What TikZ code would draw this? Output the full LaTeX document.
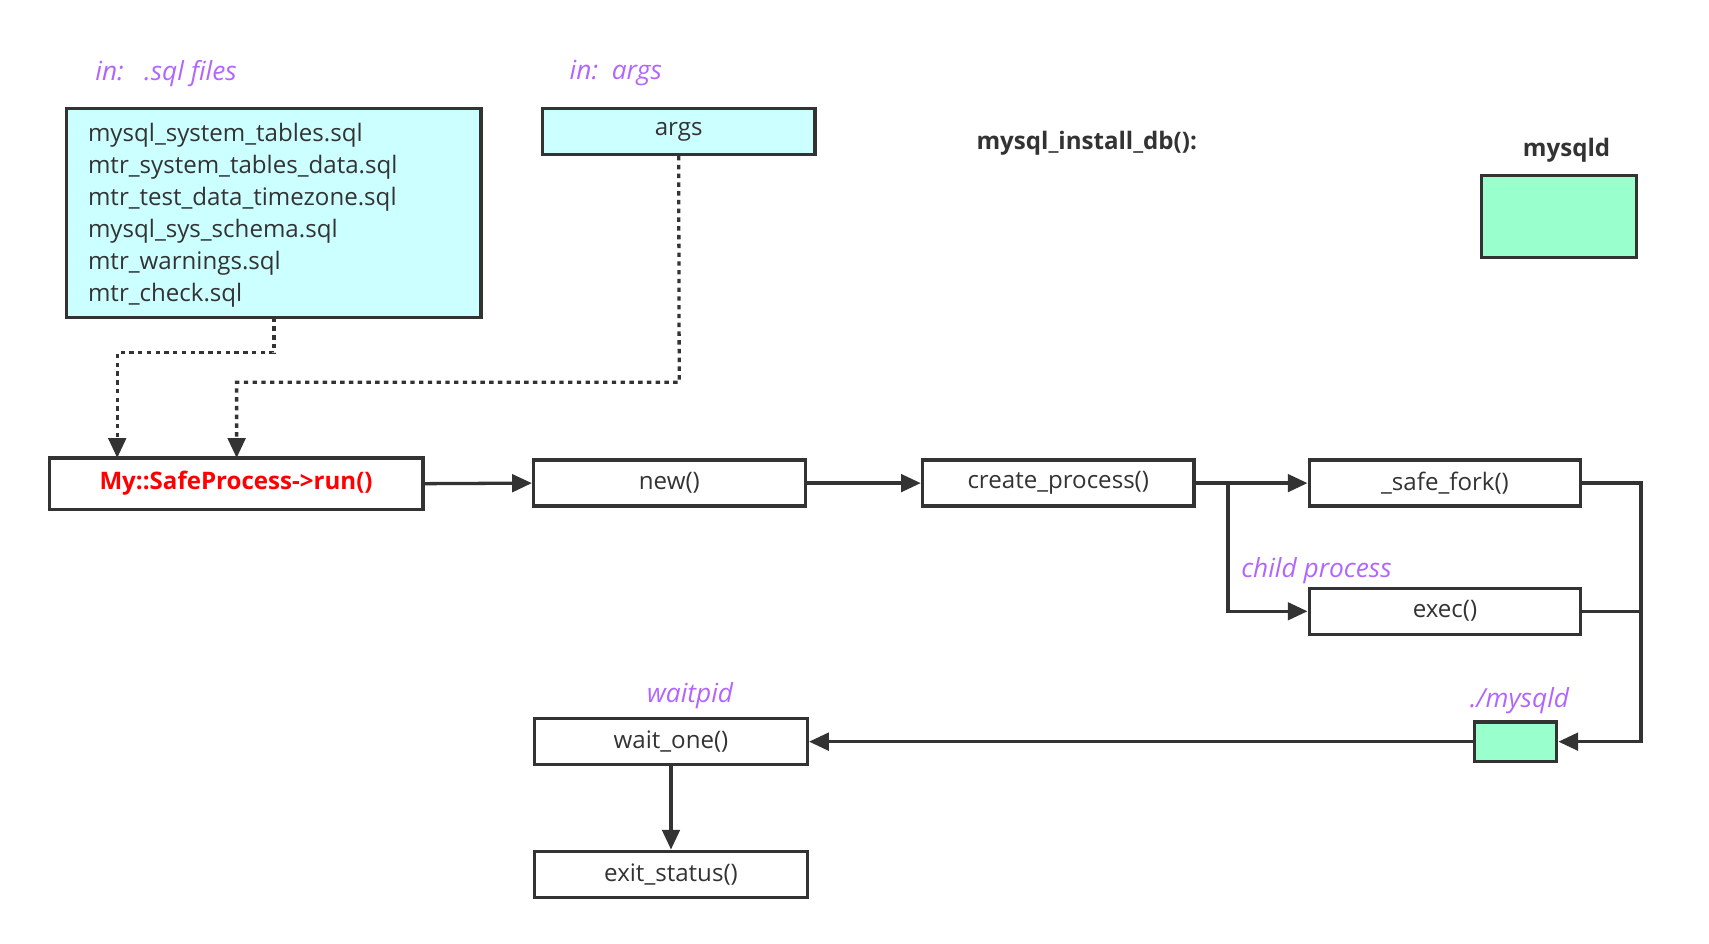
\documentclass[tikz,border=0pt]{standalone}
\usepackage{fontspec}
\setmainfont{Open Sans}
\usetikzlibrary{arrows.meta}
\definecolor{ln}{HTML}{333333}
\definecolor{cy}{HTML}{CCFFFF}
\definecolor{mint}{HTML}{99FFCC}
\definecolor{pu}{HTML}{B266FF}
\begin{document}
\begin{tikzpicture}[x=0.5pt,y=-0.5pt,
  box/.style={draw=ln,line width=1.5pt,minimum height=21pt,inner sep=0pt,font=\fontsize{11}{13}\selectfont,text=ln},
  lab/.style={font=\fontsize{12}{14}\selectfont\itshape,text=pu},
  arr/.style={draw=ln,line width=1.5pt,-{Triangle[length=9pt,width=8pt]}},
  con/.style={draw=ln,line width=1.5pt},
  dot/.style={draw=ln,line width=1.5pt,dash pattern=on 2pt off 2pt,-{Triangle[length=9pt,width=8pt]}}]
\useasboundingbox (0,0) rectangle (1560,861);
\node[box,fill=cy,minimum width=189pt,minimum height=95.5pt] (sql) at (250,194.5) {};
\node[anchor=north west,align=left,font=\fontsize{11}{14.6}\selectfont,text=ln,inner sep=0pt] (sqltxt) at (80,112) {mysql\_system\_tables.sql\\mtr\_system\_tables\_data.sql\\mtr\_test\_data\_timezone.sql\\mysql\_sys\_schema.sql\\mtr\_warnings.sql\\mtr\_check.sql};
\node[box,fill=cy,minimum width=124.5pt] (args) at (619.5,120) {args};
\node[lab,anchor=west] (l1) at (80,67) {in:\ \ \ .sql files};
\node[lab,anchor=west] (l2) at (513,67) {in:\ \ args};
\node[font=\fontsize{11}{13}\selectfont\bfseries,text=ln] (title) at (992,131) {mysql\_install\_db():};
\node[font=\fontsize{11}{13}\selectfont\bfseries,text=ln] (mt) at (1430,137) {mysqld};
\node[box,fill=mint,minimum width=71pt,minimum height=37.5pt] (mb) at (1423,197.5) {};
\node[box,minimum width=170.5pt,minimum height=23.5pt,text=red,font=\fontsize{11}{13}\selectfont\bfseries] (run) at (215.5,441.5) {My::SafeProcess->run()};
\node[box,minimum width=124pt] (new) at (611,441) {new()};
\node[box,minimum width=124pt] (cp) at (966,441) {create\_process()};
\node[box,minimum width=124pt] (sf) at (1319,441) {\_safe\_fork()};
\node[box,minimum width=124pt] (ex) at (1319,558) {exec()};
\node[lab,anchor=west] (cl) at (1126,521) {child process};
\node[box,fill=mint,minimum width=37.5pt,minimum height=18pt] (ms) at (1383.5,677) {};
\node[lab] (ml) at (1387,640) {./mysqld};
\node[box,minimum width=124.5pt] (wo) at (612.5,677) {wait\_one()};
\node[lab] (wl) at (630,635) {waitpid};
\node[box,minimum width=124.5pt] (es) at (612.5,798) {exit\_status()};
\coordinate (br) at (1121,441);
\draw[dot] (250,290) -- (250,322) -- (107,322) -- (107,418);
\draw[dot] (args.south) -- (620,349) -- (216,349) -- (216,418);
\draw[arr] (run.east) -- (new.west);
\draw[arr] (new.east) -- (cp.west);
\draw[arr] (cp.east) -- (sf.west);
\draw[arr] (br) -- (1121,558) -- (ex.west);
\draw[arr] (sf.east) -- (1498,441) -- (1498,677) -- (ms.east);
\draw[con] (ex.east) -- (1498,558);
\draw[arr] (ms.west) -- (wo.east);
\draw[arr] (wo.south) -- (es.north);
\end{tikzpicture}
\end{document}
